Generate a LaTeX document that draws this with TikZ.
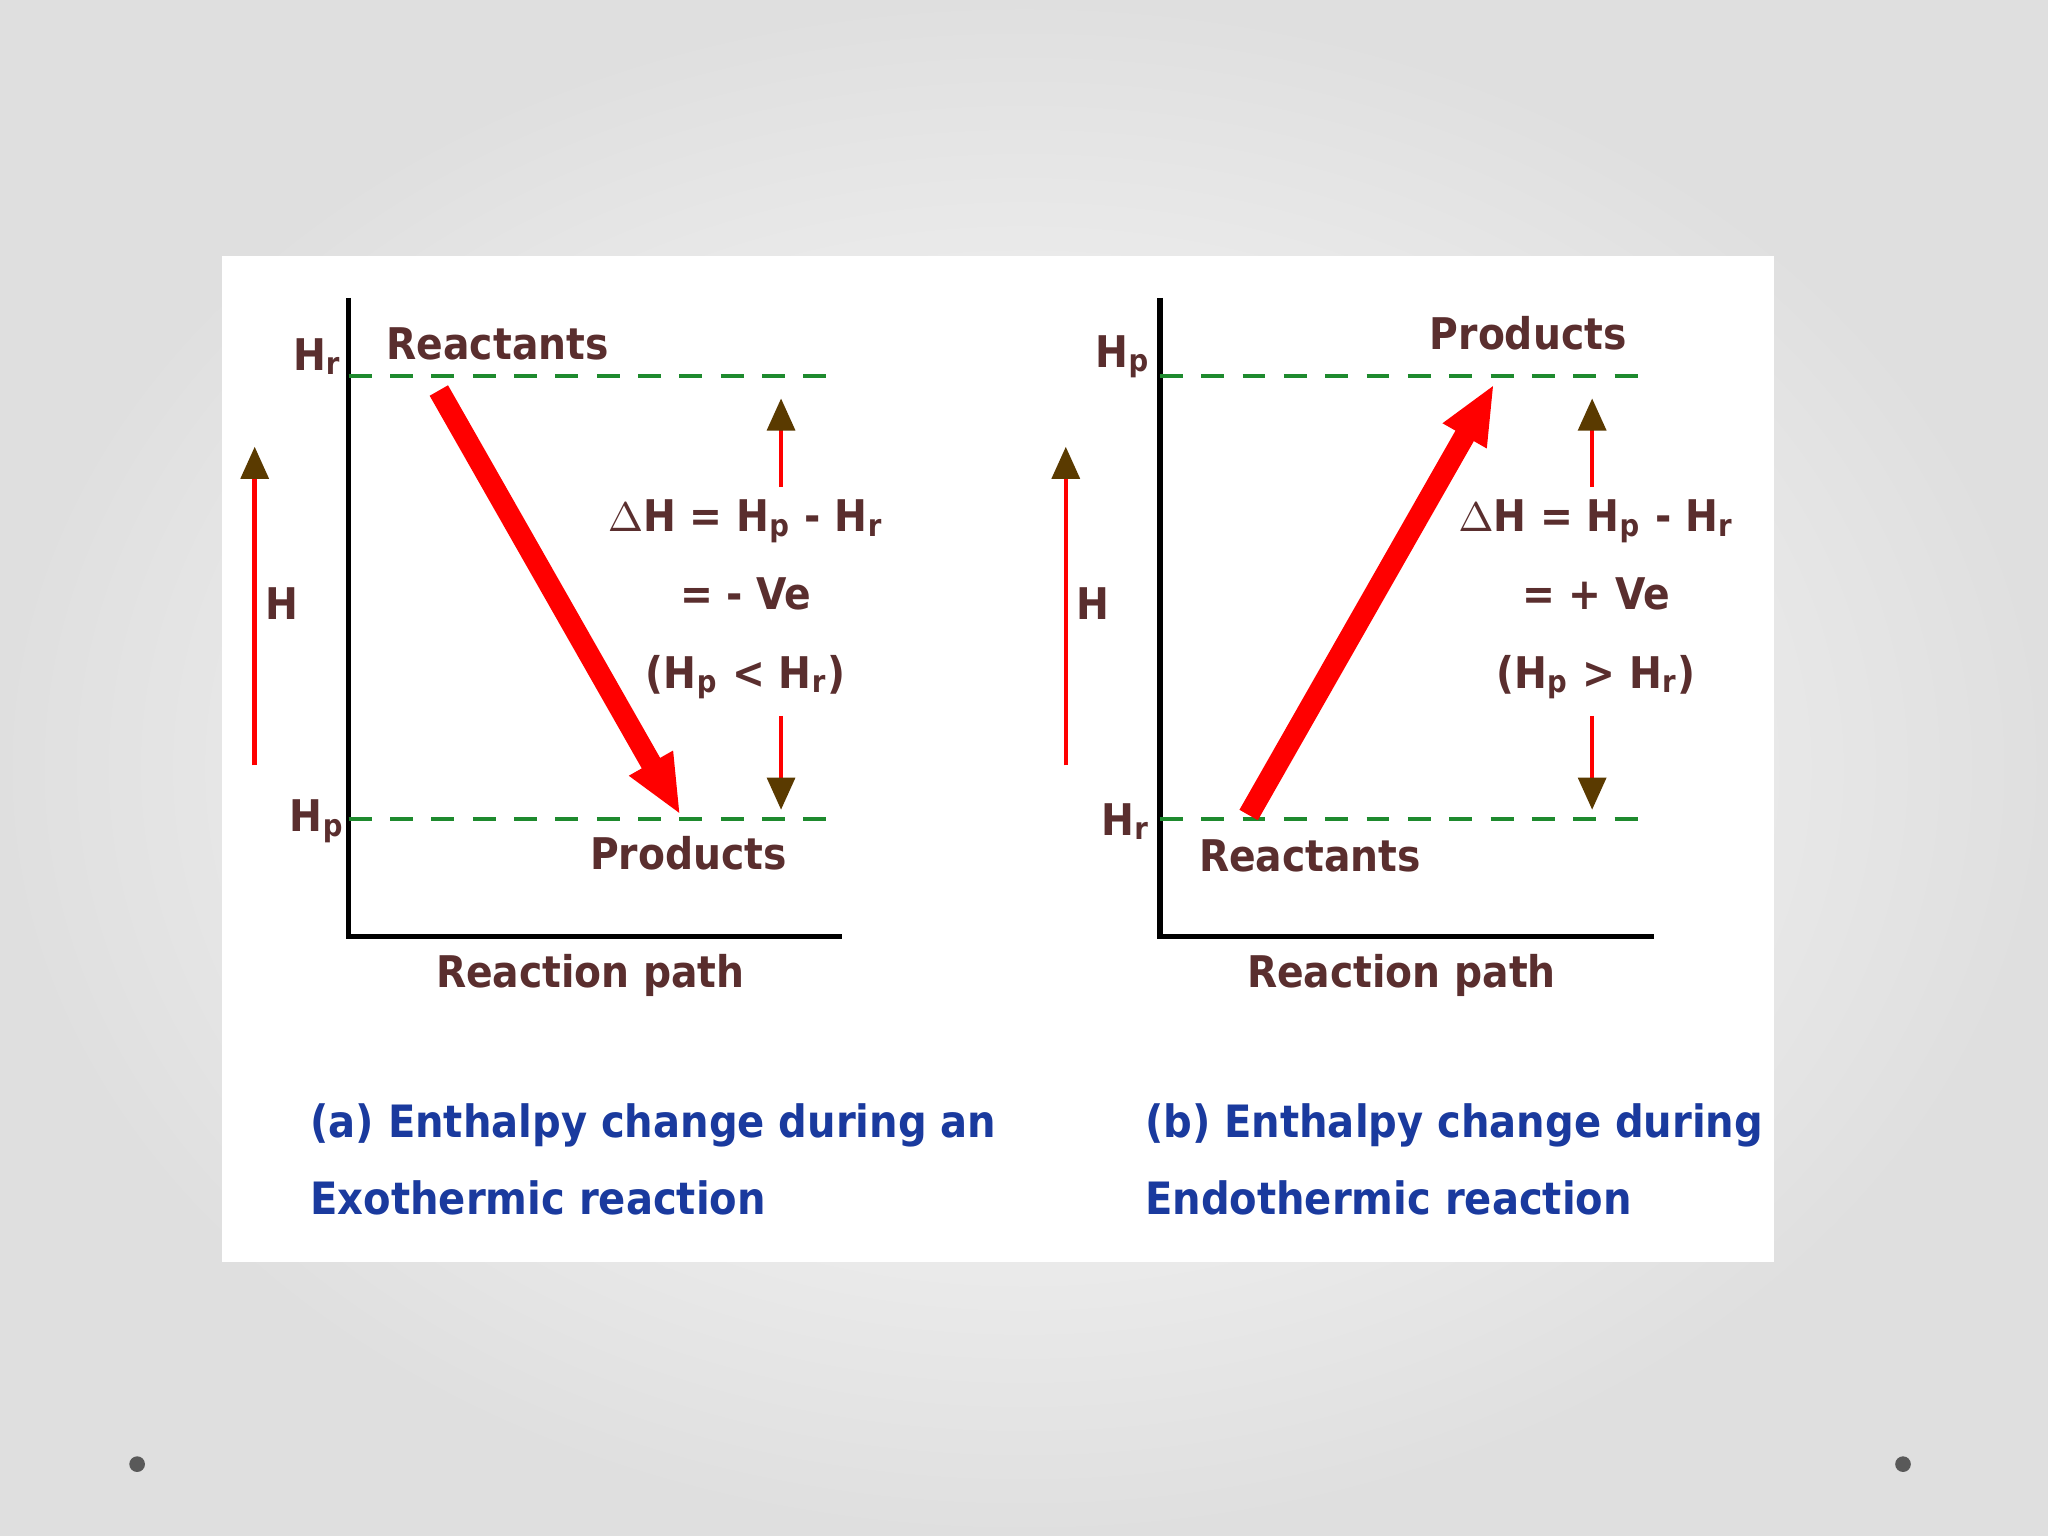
\documentclass[tikz,border=0pt]{standalone}
\usepackage{fontspec}
\setmainfont{DejaVu Sans Condensed}
\usetikzlibrary{arrows.meta}
\definecolor{brn}{HTML}{5A2E2E}
\definecolor{cap}{HTML}{1A3A9E}
\definecolor{grn}{HTML}{1E8A2E}
\definecolor{tipc}{HTML}{5A3A00}
\begin{document}
\begin{tikzpicture}[x=0.01cm,y=-0.01cm,
  lbl/.style={font=\bfseries\fontsize{9.5}{11}\selectfont,text=brn,inner sep=0pt},
  capt/.style={font=\bfseries\fontsize{9.7}{12}\selectfont,text=cap,inner sep=0pt,anchor=west},
  axis/.style={line width=1.2pt,black},
  lvl/.style={grn,line width=0.8pt,dash pattern=on 5pt off 4pt},
  big/.style={red,line width=4.6pt,-{Triangle[length=13pt,width=10pt]}},
  small/.style={red,line width=1pt,-{Triangle[length=7pt,width=6pt,fill=tipc,color=tipc]}}]
\useasboundingbox (0,0) rectangle (1568,1176);
\shade[inner color=white,outer color=gray!25] (0,0) rectangle (1568,1176);
\fill[white] (170,196) rectangle (1358,966);
\fill[gray!70!black] (105,1121) circle (6);
\fill[gray!70!black] (1457,1121) circle (6);
% panel a
\draw[axis] (267,228) -- (267,717) -- (645,717);
\draw[lvl] (267,288) -- (645,288);
\draw[lvl] (267,627) -- (645,627);
\node[lbl] (hra) at (243,273) {H\textsubscript{r}};
\node[lbl] (hpa) at (243,629) {H\textsubscript{p}};
\node[lbl] (ra) at (381,263) {Reactants};
\node[lbl] (pa) at (527,653) {Products};
\coordinate (a1) at (336,299); \coordinate (a2) at (521,624);
\draw[big] (a1) -- (a2);
\coordinate (u1) at (598,373); \coordinate (u2) at (598,305);
\coordinate (d1) at (598,548); \coordinate (d2) at (598,620);
\draw[small] (u1) -- (u2); \draw[small] (d1) -- (d2);
\node[lbl,align=center] (dha) at (571,459) {$\Delta$H = H\textsubscript{p} - H\textsubscript{r}\\[6pt]= - Ve\\[6pt](H\textsubscript{p} < H\textsubscript{r})};
\coordinate (ha1) at (195,586); \coordinate (ha2) at (195,342);
\draw[small] (ha1) -- (ha2);
\node[lbl] (hla) at (216,462) {H};
\node[lbl] (rpa) at (452,747) {Reaction path};
\node[capt] (ca) at (237,862) {(a) Enthalpy change during an};
\node[capt] (ca2) at (237,917) {Exothermic reaction};
% panel b
\draw[axis] (888,228) -- (888,717) -- (1266,717);
\draw[lvl] (888,288) -- (1266,288);
\draw[lvl] (888,627) -- (1266,627);
\node[lbl] (hpb) at (860,273) {H\textsubscript{p}};
\node[lbl] (hrb) at (862,629) {H\textsubscript{r}};
\node[lbl] (pb) at (1170,255) {Products};
\node[lbl] (rb) at (1003,655) {Reactants};
\coordinate (b1) at (956,624); \coordinate (b2) at (1144,294);
\draw[big] (b1) -- (b2);
\coordinate (v1) at (1219,373); \coordinate (v2) at (1219,305);
\coordinate (w1) at (1219,548); \coordinate (w2) at (1219,620);
\draw[small] (v1) -- (v2); \draw[small] (w1) -- (w2);
\node[lbl,align=center] (dhb) at (1222,459) {$\Delta$H = H\textsubscript{p} - H\textsubscript{r}\\[6pt]= + Ve\\[6pt](H\textsubscript{p} > H\textsubscript{r})};
\coordinate (hb1) at (816,586); \coordinate (hb2) at (816,342);
\draw[small] (hb1) -- (hb2);
\node[lbl] (hlb) at (837,462) {H};
\node[lbl] (rpb) at (1073,747) {Reaction path};
\node[capt] (cb) at (876,862) {(b) Enthalpy change during};
\node[capt] (cb2) at (876,917) {Endothermic reaction};
\end{tikzpicture}
\end{document}
